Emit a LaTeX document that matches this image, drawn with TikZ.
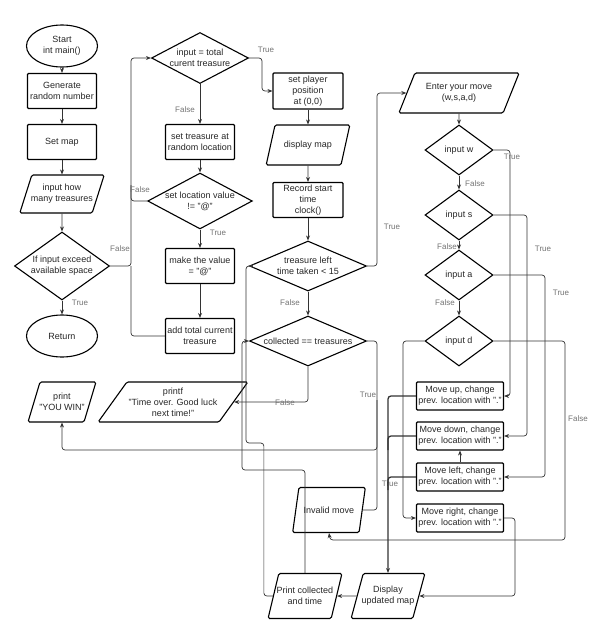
\documentclass[tikz,border=0pt]{standalone}
\usepackage{fontspec}
\setmainfont{Liberation Sans}
\usetikzlibrary{shapes.geometric,arrows.meta}

\begin{document}
\begin{tikzpicture}[x=1pt,y=-1pt,
    font=\fontsize{9}{11}\selectfont,
    every node/.style={align=center, text=black!85},
    proc/.style={draw, line width=1.1pt, rounded corners=1pt, minimum width=69pt, minimum height=35pt, inner sep=1pt},
    term/.style={draw, line width=1.1pt, ellipse, minimum width=71pt, minimum height=42pt, inner sep=0pt},
    io/.style={draw, line width=1.1pt, trapezium, trapezium stretches=true, trapezium left angle=65, trapezium right angle=115, rounded corners=1.5pt, minimum height=40pt, inner xsep=-6pt, inner ysep=1pt},
    dec/.style={draw, line width=1.1pt, diamond, inner sep=0pt},
    conn/.style={draw=black!80, line width=0.7pt, rounded corners=3pt, -{Stealth[length=5pt,width=4pt]}},
    link/.style={draw=black!80, line width=0.7pt, rounded corners=3pt},
    lbl/.style={font=\fontsize{8}{9}\selectfont, text=black!55, inner sep=1pt}]
  \useasboundingbox (0,0) rectangle (593,643);

  % setup
  \node[term] (start) at (62,46) {Start\\int main()};
  \node[proc] (random) at (62,91) {Generate\\random number};
  \node[proc] (setmap) at (62,142) {Set map};
  \node[io, minimum width=85pt, minimum height=38pt] (howmany) at (62,194) {input how\\many treasures};
  \node[dec, minimum width=95pt, minimum height=68pt, shape aspect=1.4] (exceed) at (62,266) {If input exceed\\available space};
  \node[term] (return) at (62,336) {Return};
  \node[io, minimum width=68pt] (youwin) at (62,402) {print\\"YOU WIN"};

  % treasures
  \node[dec, minimum width=97pt, minimum height=51pt, shape aspect=1.9] (total) at (200,58) {input = total\\curent treasure};
  \node[proc] (settreasure) at (200,142) {set treasure at\\random location};
  \node[dec, minimum width=97pt, minimum height=52pt, shape aspect=1.87] (locvalue) at (200,201) {set location value\\!= "@"};
  \node[proc] (makevalue) at (200,266) {make the value\\= "@"};
  \node[proc] (addtotal) at (200,336) {add total current\\treasure};
  \node[io, trapezium left angle=52, trapezium right angle=128, minimum width=150pt] (timeover) at (173,402) {printf\\"Time over. Good luck\\next time!"};

  % game loop
  \node[proc, minimum width=70pt, minimum height=36pt] (player) at (308,91) {set player\\position\\at (0,0)};
  \node[io, minimum width=84pt] (dispmap) at (308,145) {display map};
  \node[proc, minimum width=70pt] (clock) at (308,200) {Record start\\time\\clock()};
  \node[dec, minimum width=117pt, minimum height=50pt, shape aspect=2.34] (timeleft) at (308,266) {treasure left\\time taken < 15};
  \node[dec, minimum width=117pt, minimum height=50pt, shape aspect=2.34] (collected) at (308,341) {collected == treasures};
  \node[io, minimum width=73pt, minimum height=45pt] (invalid) at (329,510) {Invalid move};
  \node[io, minimum width=74pt, minimum height=45pt] (printct) at (305,596) {Print collected\\and time};
  \node[io, minimum width=74pt, minimum height=45pt] (dispupd) at (388,596) {Display\\updated map};

  % moves
  \node[io, minimum width=121pt] (enter) at (459,93) {Enter your move\\(w,s,a,d)};
  \node[dec, minimum width=68pt, minimum height=50pt, shape aspect=1.36] (inw) at (459,150) {input w};
  \node[dec, minimum width=68pt, minimum height=50pt, shape aspect=1.36] (ins) at (459,215) {input s};
  \node[dec, minimum width=68pt, minimum height=50pt, shape aspect=1.36] (ina) at (459,275) {input a};
  \node[dec, minimum width=68pt, minimum height=50pt, shape aspect=1.36] (ind) at (459,341) {input d};
  \node[proc, minimum width=87pt, minimum height=28pt] (moveup) at (460,396) {Move up, change\\prev. location with "."};
  \node[proc, minimum width=87pt, minimum height=28pt] (movedown) at (460,436) {Move down, change\\prev. location with "."};
  \node[proc, minimum width=87pt, minimum height=28pt] (moveleft) at (460,477) {Move left, change\\prev. location with "."};
  \node[proc, minimum width=87pt, minimum height=28pt] (moveright) at (460,518) {Move right, change\\prev. location with "."};

  % straight arrows
  \draw[conn] (start) -- (random);
  \draw[conn] (random) -- (setmap);
  \draw[conn] (setmap) -- (howmany);
  \draw[conn] (howmany) -- (exceed);
  \draw[conn] (exceed) -- (return);
  \node[lbl] at (80,303) {True};
  \draw[conn] (total) -- (settreasure);
  \node[lbl] at (185,110) {False};
  \draw[conn] (settreasure) -- (locvalue);
  \draw[conn] (locvalue) -- (makevalue);
  \node[lbl] at (218,233) {True};
  \draw[conn] (makevalue) -- (addtotal);
  \draw[conn] (player) -- (dispmap);
  \draw[conn] (dispmap) -- (clock);
  \draw[conn] (clock) -- (timeleft);
  \draw[conn] (timeleft) -- (collected);
  \node[lbl] at (290,303) {False};
  \draw[conn] (enter) -- (inw);
  \draw[conn] (inw) -- (ins);
  \node[lbl] at (475,184) {False};
  \draw[conn] (ins) -- (ina);
  \node[lbl] at (447,247) {False};
  \draw[conn] (ina) -- (ind);
  \node[lbl] at (445,303) {False};
  \draw[conn] (moveleft) -- (movedown);
  \draw[conn] (dispupd) -- (printct);

  % loops
  \draw[conn] (exceed.east) -- (131,266) |- (total.west);
  \node[lbl] at (120,249) {False};
  \draw[link] (locvalue.west) -- (131,201) -- (131,185);
  \node[lbl] at (140,190) {False};
  \draw[link] (addtotal.west) -- (131,336) -- (131,266);
  \draw[conn] (total.east) -- (262,58) |- (player.west);
  \node[lbl] at (266,50) {True};

  \draw[conn] (timeleft.east) -- (377,266) |- (enter.west);
  \node[lbl] at (392,227) {True};
  \draw[conn] (collected.east) -- (377,341) |- (62,450) -- (youwin.south);
  \node[lbl] at (368,395) {True};
  \draw[link] (invalid.east) -| (377,400);
  \draw[conn] (collected.south) |- (timeover.east);
  \node[lbl] at (285,403) {False};
  \draw[conn] (printct.west) -- ++(-9,0) |- (246,443) |- (timeleft.west);
  \draw[conn] (printct.north) |- (242,470) |- (collected.west);

  \draw[conn] (inw.east) -- (510,150) |- (moveup.east);
  \node[lbl] at (512,157) {True};
  \draw[conn] (ins.east) -- (527,215) |- (movedown.east);
  \node[lbl] at (543,249) {True};
  \draw[conn] (ina.east) -- (545,275) |- (moveleft.east);
  \node[lbl] at (561,293) {True};
  \draw[conn] (ind.east) -- (565,341) |- (330,540) -- (invalid.south);
  \node[lbl] at (578,419) {False};
  \draw[conn] (ind.west) -- (403,341) |- (moveright.west);
  \node[lbl] at (390,484) {True};
  \draw[conn, line width=1.3pt] (moveup.west) -- (388,396) -- (dispupd.north);
  \draw[link, line width=1.3pt] (movedown.west) -- (388,436) -- (388,450);
  \draw[link, line width=1.3pt] (moveleft.west) -- (388,477) -- (388,490);
  \draw[conn] (moveright.east) -- (515,518) |- (dispupd.east);
\end{tikzpicture}
\end{document}
